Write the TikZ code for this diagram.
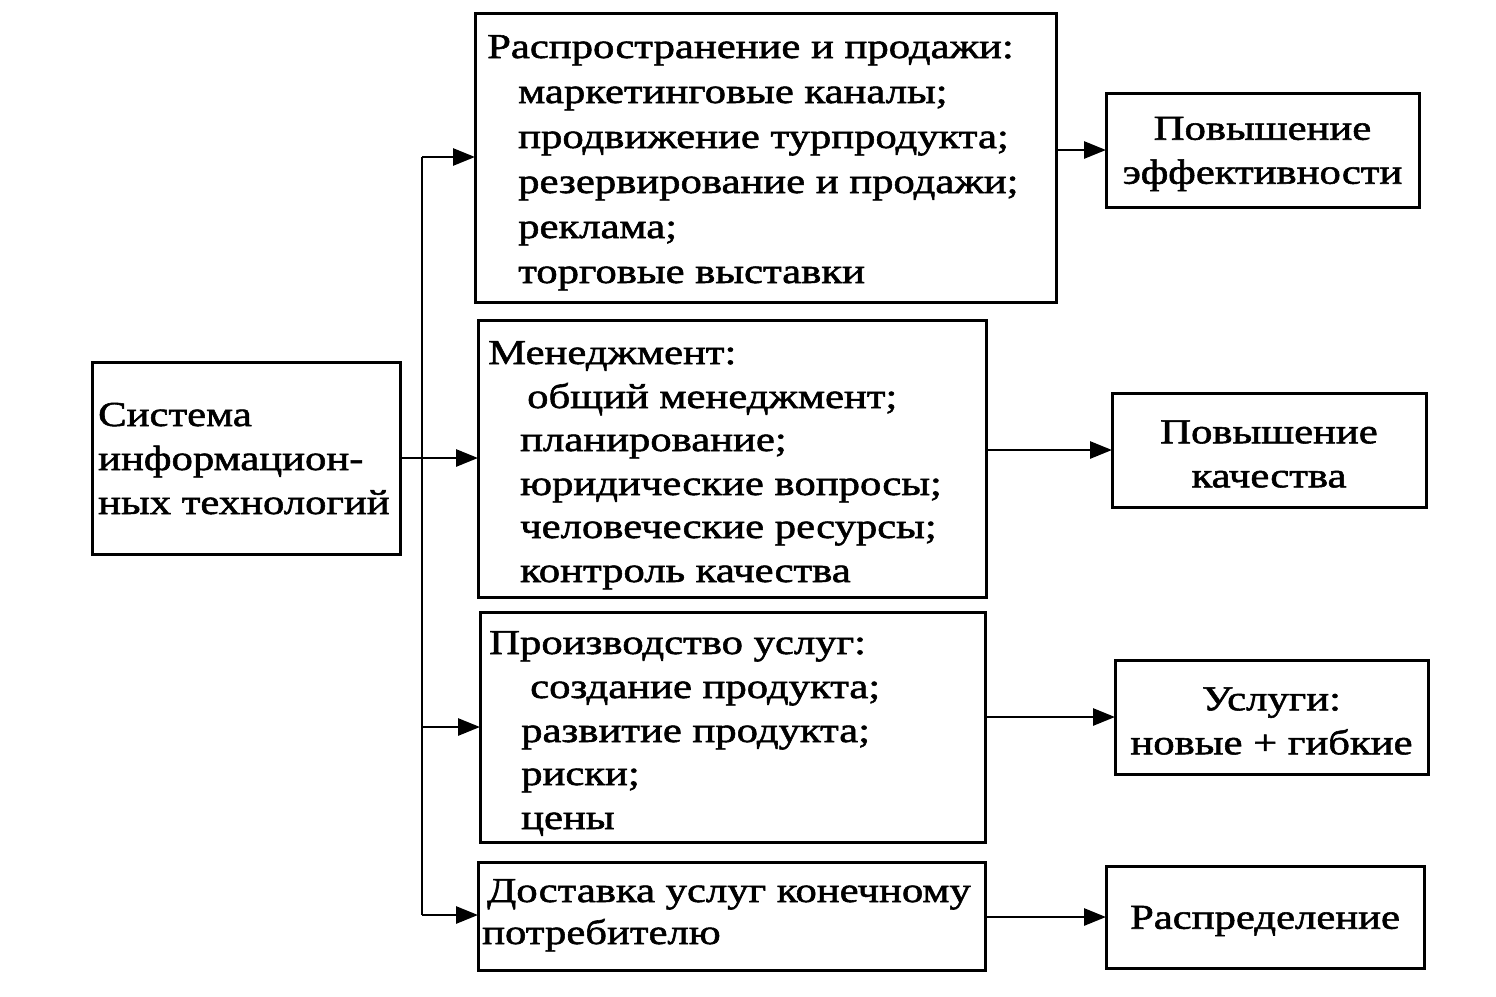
\documentclass[tikz,border=0pt]{standalone}
\usepackage{fontspec}
\setmainfont[FakeStretch=1.22,FakeBold=1.6]{Liberation Serif}
\usetikzlibrary{arrows.meta}
\begin{document}
\begin{tikzpicture}[x=1pt,y=-1pt,
  box/.style={draw,line width=3pt,anchor=north west,inner sep=0pt,outer sep=0pt},
  txt/.style={anchor=base west,inner sep=0pt,font=\fontsize{35}{45}\selectfont},
  ctxt/.style={align=center,inner sep=0pt,yshift=-4pt,font=\fontsize{35}{44}\selectfont},
  conn/.style={line width=2.8pt},
  arr/.style={line width=2.8pt,-{Triangle[length=22pt,width=17pt]}}]
\useasboundingbox (0,0) rectangle (1496,996);
% boxes
\node[box,minimum width=308pt,minimum height=192pt] (lb) at (92,362) {};
\node[box,minimum width=581pt,minimum height=289pt] (b1) at (475,13) {};
\node[box,minimum width=508pt,minimum height=277pt] (b2) at (478,320) {};
\node[box,minimum width=505pt,minimum height=230pt] (b3) at (480,612) {};
\node[box,minimum width=507pt,minimum height=108pt] (b4) at (478,862) {};
\node[box,minimum width=313pt,minimum height=114pt] (r1) at (1106,93) {};
\node[box,minimum width=314pt,minimum height=114pt] (r2) at (1112,393) {};
\node[box,minimum width=313pt,minimum height=114pt] (r3) at (1115,660) {};
\node[box,minimum width=318pt,minimum height=102pt] (r4) at (1106,866) {};
% left text
\node[txt] (lt1) at (98,426) {Система};
\node[txt] (lt2) at (98,470) {информацион-};
\node[txt] (lt3) at (98,514) {ных технологий};
% box1 text
\node[txt] (a0) at (487,58) {Распространение и продажи:};
\node[txt] (a1) at (518,103) {маркетинговые каналы;};
\node[txt] (a2) at (518,148) {продвижение турпродукта;};
\node[txt] (a3) at (518,193) {резервирование и продажи;};
\node[txt] (a4) at (518,238) {реклама;};
\node[txt] (a5) at (518,283) {торговые выставки};
% box2 text
\node[txt] (m0) at (488,364) {Менеджмент:};
\node[txt] (m1) at (527,408) {общий менеджмент;};
\node[txt] (m2) at (520,451) {планирование;};
\node[txt] (m3) at (520,495) {юридические вопросы;};
\node[txt] (m4) at (520,538) {человеческие ресурсы;};
\node[txt] (m5) at (520,582) {контроль качества};
% box3 text
\node[txt] (p0) at (489,654) {Производство услуг:};
\node[txt] (p1) at (530,698) {создание продукта;};
\node[txt] (p2) at (521,742) {развитие продукта;};
\node[txt] (p3) at (521,785) {риски;};
\node[txt] (p4) at (521,829) {цены};
% box4 text
\node[txt] (d0) at (487,902) {Доставка услуг конечному};
\node[txt] (d1) at (482,944) {потребителю};
% right texts
\node[ctxt] (rt1) at (r1.center) {Повышение\\эффективности};
\node[ctxt] (rt2) at (r2.center) {Повышение\\качества};
\node[ctxt] (rt3) at (r3.center) {Услуги:\\новые + гибкие};
\node[ctxt] (rt4) at (r4.center) {Распределение};
% connectors
\coordinate (t1) at (422,157);
\coordinate (t2) at (422,458);
\coordinate (t3) at (422,727);
\coordinate (t4) at (422,915);
\draw[conn] (t1) -- (t4);
\draw[conn] (lb.east) -- (t2);
\draw[arr] (t1) -- (t1 -| b1.west);
\draw[arr] (t2) -- (t2 -| b2.west);
\draw[arr] (t3) -- (t3 -| b3.west);
\draw[arr] (t4) -- (t4 -| b4.west);
\draw[arr] (r1.west -| b1.east) -- (r1.west);
\draw[arr] (r2.west -| b2.east) -- (r2.west);
\draw[arr] (r3.west -| b3.east) -- (r3.west);
\draw[arr] (r4.west -| b4.east) -- (r4.west);
\end{tikzpicture}
\end{document}
